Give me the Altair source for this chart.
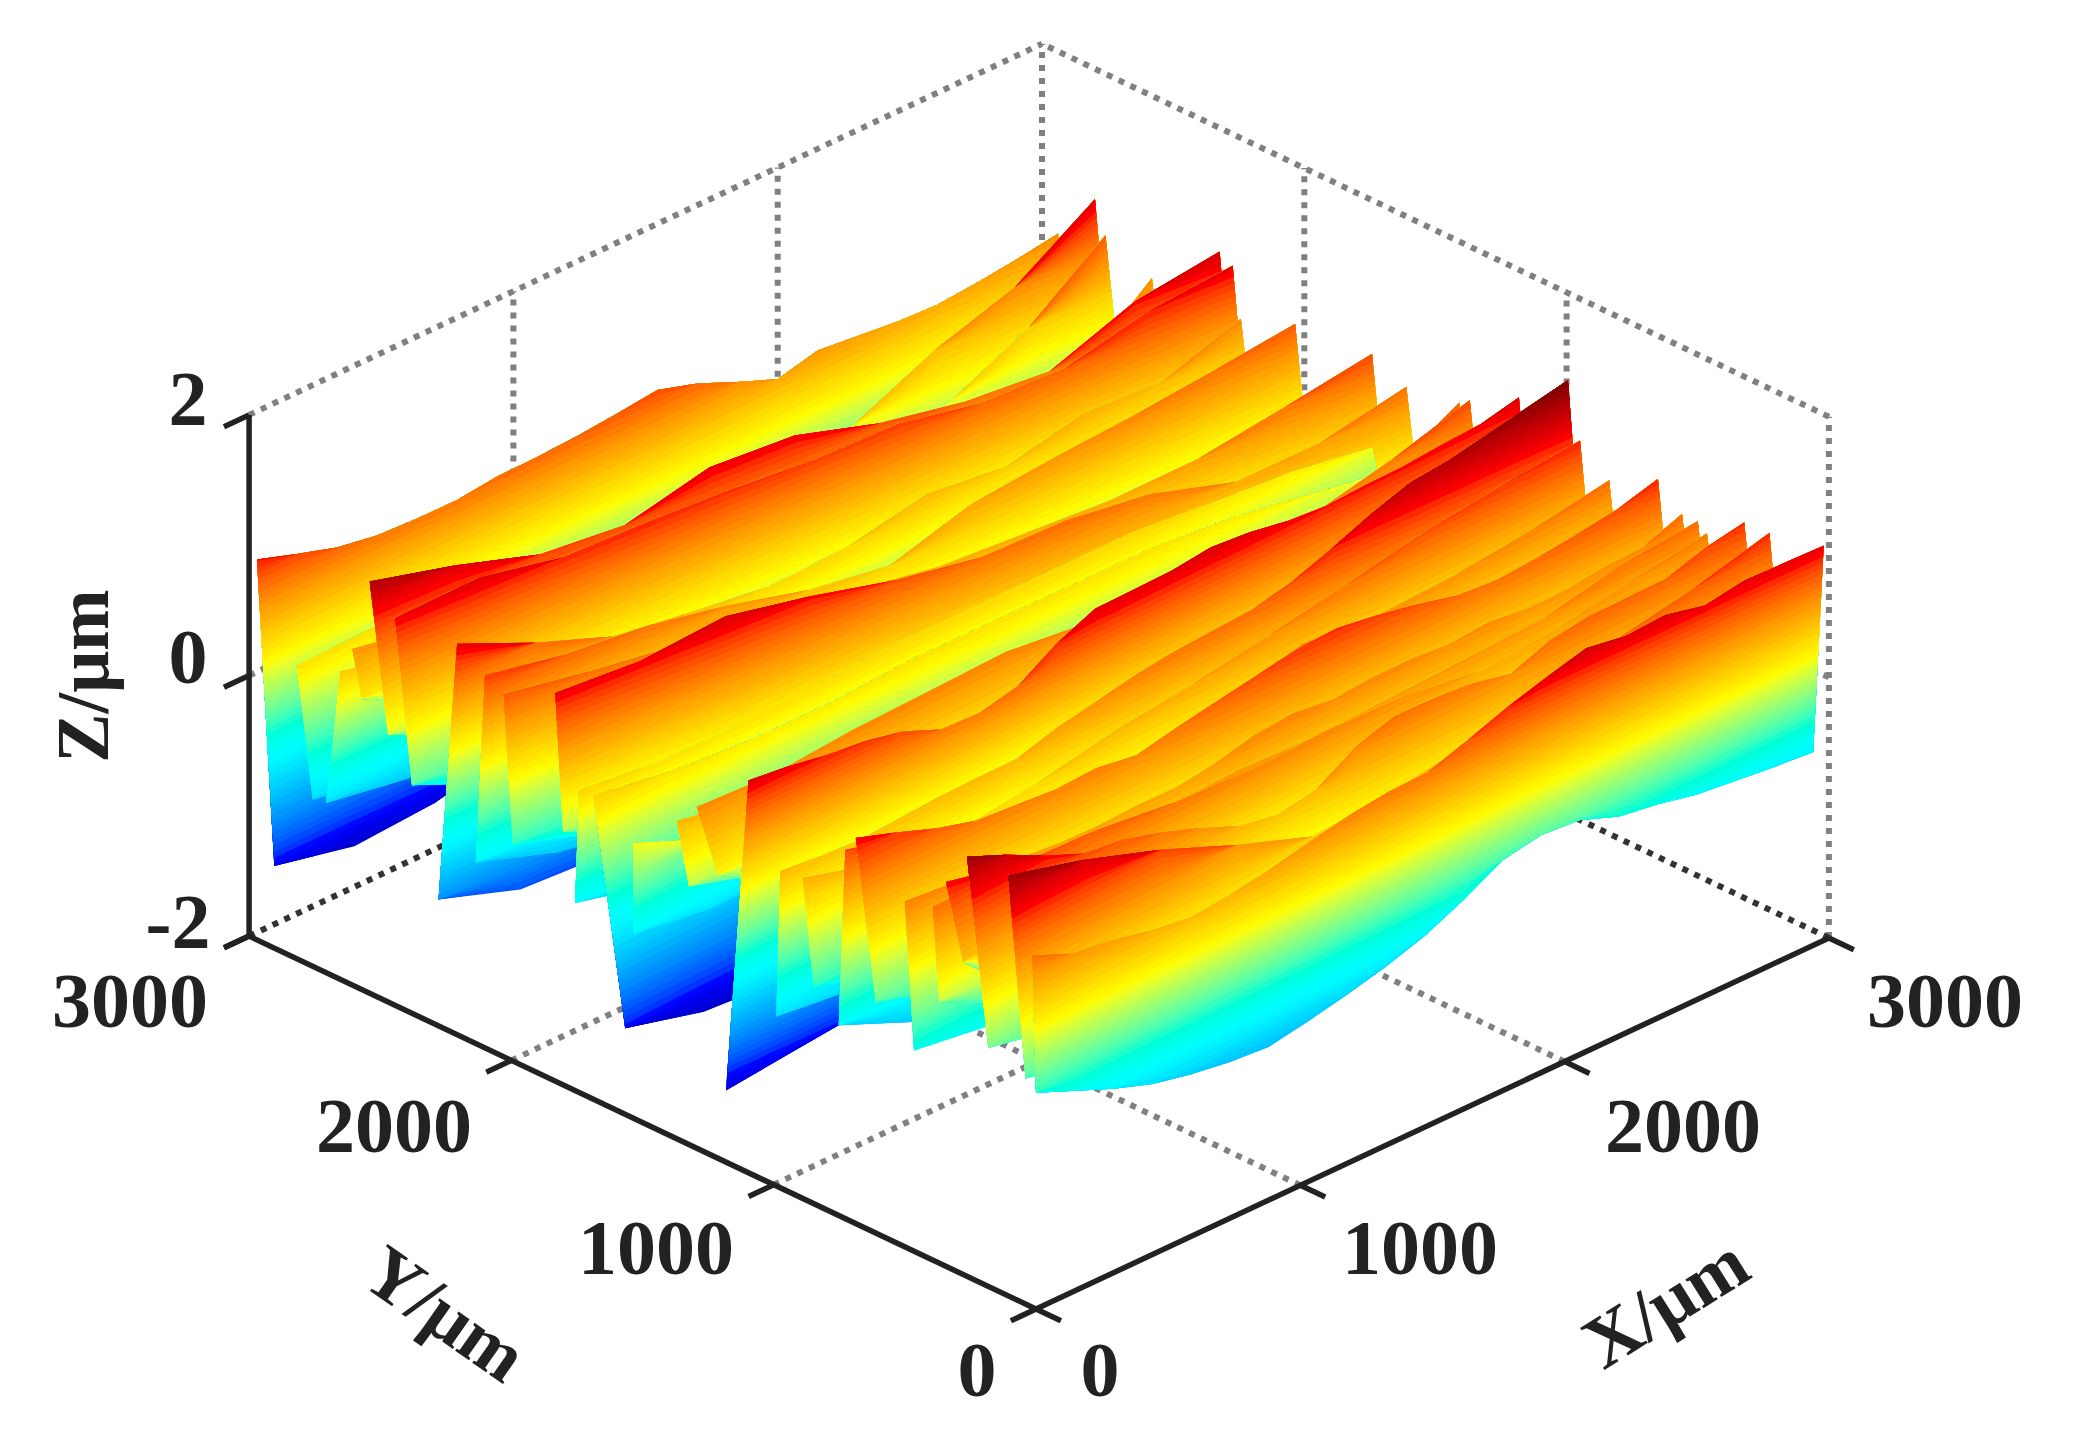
import altair as alt
import numpy as np
import pandas as pd

alt.data_transformers.disable_max_rows()

# ---- surface data, micrometres ------------------------------------------
# Each crest / foot list runs evenly from X=0 to X=3000 (11 or 21 readings).
# (Y of crest at X=0, Y of crest at X=3000, Y of foot at X=0, Y of foot at X=3000)
RIDGE_Y = [
    (2970, 2939, 2904, 2870), (2818, 2798, 2757, 2730), (2652, 2758, 2707, 2690),
    (2606, 2581, 2570, 2520), (2540, 2323, 2470, 2260), (2444, 2273, 2379, 2210),
    (2207, 2242, 2278, 2180), (2101, 2035, 2136, 1975), (2030, 1742, 1995, 1680),
    (1833, 1611, 1803, 1550), (1742, 1742, 1757, 1680), (1687, 1667, 1566, 1600),
    (1535, 1717, 1535, 1650), (1369, 1409, 1323, 1350), (1293, 1369, 1212, 1310),
    (1096, 1182, 1182, 1120), (975, 995, 990, 930), (889, 949, 848, 890),
    (727, 838, 752, 780), (687, 652, 611, 590), (500, 560, 465, 500),
    (394, 500, 369, 440), (343, 465, 278, 400), (263, 323, 182, 260),
    (106, 227, 40, 170), (15, 20, 0, 60),
]
CREST_Z = [
    [.92, .82, .73, .68, .67, .67, .71, .72, .74, .77, .81, .72, .59, .47, .55, .52, .49, .48, .51, .55, .60],
    [.25, .27, .19, .02, -.06, -.14, -.07, .13, .41, .61, 1.0],
    [.36, .22, .13, .04, -.05, -.14, -.28, -.02, .09, .35, .76],
    [.58, .47, .44, .37, .34, .26, .20, .11, -.07, .10, .60],
    [1.16, 1.02, .84, .80, .98, .96, .79, .69, .66, .93, 1.05],
    [.97, 1.01, .90, .90, .88, .84, .85, .74, .74, .91, .99],
    [1.0, .72, .48, .38, .29, .31, .42, .34, .46, .42, .61],
    [.86, .74, .68, .56, .40, .31, .50, .57, .62, .69, .77],
    [.78, .70, .64, .59, .54, .47, .47, .47, .53, .67, .82],
    [.98, .96, 1.04, .93, .79, .70, .72, .66, .49, .53, .69],
    [.32, .25, .25, .27, .31, .31, .31, .31, .25, .20, .10],
    [.33, .24, .20, .20, .25, .25, .25, .25, .20, .10, .0],
    [.11, -.16, -.31, -.43, -.48, -.52, -.55, -.53, -.42, -.36, -.26],
    [.44, .33, .26, .21, .23, .19, .21, .23, .35, .46, .76],
    [.62, .58, .62, .63, .64, .56, .52, .53, .54, .66, .82],
    [1.01, .97, .91, .87, .80, .67, .65, .71, .89, 1.01, 1.01, 1.01, 1.04, 1.01, .95, .92, .93, .93, .95, .96, 1.02],
    [.43, .40, .38, .40, .42, .43, .43, .52, .58, .64, .68, .70, .72, .79, .90, 1.02, 1.12, 1.15, 1.21, 1.27, 1.33],
    [.46, .28, .24, .31, .42, .49, .58, .68, .79, .86, .91],
    [.83, .66, .39, .45, .41, .53, .64, .57, .58, .63, .71],
    [.96, .86, .75, .67, .65, .63, .65, .61, .68, .74, .80, .86, .88, .84, .78, .71, .69, .72, .76, .81, .90],
    [.65, .62, .58, .55, .52, .51, .52, .51, .55, .62, .64, .60, .62, .62, .59, .61, .57, .57, .60, .61, .72],
    [.71, .70, .56, .57, .58, .54, .55, .56, .57, .68, .72],
    [.95, .80, .76, .67, .62, .63, .59, .49, .51, .59, .66],
    [1.22, 1.09, .94, .81, .77, .68, .57, .44, .38, .43, .61, .70, .69, .66, .59, .70, .74, .74, .74, .83, .88],
    [1.23, 1.05, .83, .57, .34, .37, .44, .58, .67, .76, .89],
    [.70, .57, .53, .46, .42, .45, .50, .57, .63, .67, .68, .78, .89, .98, 1.06, 1.01, 1.03, .96, 1.01, 1.0, .99],
]
FOOT_Z = [
    [-1.37, -1.5, -1.45, -1.3, -1.2, -1.1, -1.0, -.9, -.8, -.8, -.8],
    [-.72, -.85, -.9, -.9, -.9, -.9, -.9, -.8, -.7, -.6, -.5],
    [-.70, -.8, -.9, -.9, -.9, -.9, -.9, -.8, -.7, -.6, -.5],
    [.23, -.1, -.4, -.6, -.7, -.7, -.7, -.7, -.6, -.5, -.4],
    [.05, -.2, -.5, -.6, -.6, -.6, -.6, -.6, -.5, -.4, -.3],
    [-.25, -.5, -.6, -.7, -.7, -.7, -.7, -.6, -.6, -.5, -.4],
    [-1.03, -1.23, -1.25, -1.2, -1.0, -.9, -.8, -.7, -.6, -.5, -.4],
    [-.61, -.8, -.9, -.9, -.9, -.8, -.8, -.7, -.6, -.5, -.4],
    [-.34, -.5, -.6, -.7, -.7, -.7, -.7, -.6, -.6, -.5, -.4],
    [-.06, -.3, -.5, -.6, -.6, -.6, -.6, -.6, -.5, -.4, -.3],
    [-.56, -.7, -.8, -.8, -.8, -.8, -.8, -.7, -.6, -.5, -.4],
    [-1.34, -1.5, -1.55, -1.4, -1.2, -1.0, -.9, -.8, -.7, -.6, -.5],
    [-.59, -.69, -.7, -.8, -.8, -.8, -.8, -.8, -.7, -.6, -.5],
    [-.02, -.2, -.4, -.5, -.6, -.6, -.6, -.5, -.5, -.4, -.3],
    [.17, -.2, -.5, -.6, -.6, -.6, -.6, -.5, -.5, -.4, -.3],
    [-1.45, -1.41, -1.37, -1.33, -1.3, -1.2, -1.1, -1.0, -.9, -.85, -.8, -.75, -.7, -.65, -.6, -.55, -.5, -.45, -.4, -.35, -.3],
    [-.7, -.76, -.85, -.8, -.7, -.6, -.5, -.5, -.4, -.4, -.3],
    [-.34, -.5, -.6, -.6, -.6, -.5, -.5, -.4, -.4, -.3, -.3],
    [-.54, -.8, -.85, -.8, -.7, -.6, -.5, -.5, -.4, -.4, -.3],
    [-.23, -.4, -.5, -.5, -.5, -.5, -.4, -.4, -.4, -.3, -.3],
    [-.46, -.55, -.6, -.6, -.5, -.5, -.4, -.4, -.3, -.3, -.3],
    [0, -.3, -.45, -.5, -.5, -.5, -.4, -.4, -.3, -.3, -.3],
    [.4, -.2, -.45, -.5, -.5, -.5, -.4, -.4, -.3, -.3, -.3],
    [-.17, -.3, -.45, -.5, -.5, -.5, -.4, -.4, -.3, -.3, -.3],
    [-.27, -.4, -.45, -.5, -.5, -.5, -.4, -.4, -.3, -.3, -.3],
    [-.34, -.47, -.60, -.71, -.78, -.83, -.86, -.81, -.75, -.68, -.59, -.46, -.30, -.25, -.28, -.40, -.45, -.52, -.56, -.60, -.63],
]

TICKS_XY = [0, 1000, 2000, 3000]
TICKS_Z = [-2, 0, 2]

Z_LOW, Z_HIGH = -1.75, 1.3
N_LEVELS = 66
JET_Z = [-1.75, -1.36, -.60, .10, .90, 1.3]
JET = ["#00008f", "#0000ff", "#00ffff", "#ffff00", "#ff0000", "#800000"]


# ---- isometric view of the box -------------------------------------------
def view(x, y, z):
    return (1036 + .2643 * np.asarray(x, float) - .2623 * np.asarray(y, float),
            1309 - .1237 * np.asarray(x, float) - .1243 * np.asarray(y, float)
            - 130.3 * (np.asarray(z, float) + 2))


levels = Z_LOW + (np.arange(N_LEVELS) + .5) * (Z_HIGH - Z_LOW) / N_LEVELS


def ridge_frame(yc, zc, zb):
    n = max(len(zc), len(zb))
    xs = np.linspace(0, 3000, n)
    zc = np.interp(xs, np.linspace(0, 3000, len(zc)), zc)
    zb = np.interp(xs, np.linspace(0, 3000, len(zb)), zb)
    frac = xs / 3000
    y_c = yc[0] + (yc[1] - yc[0]) * frac
    y_b = yc[2] + (yc[3] - yc[2]) * frac
    rows = []
    first = True
    for li, lev in enumerate(levels):
        if lev >= zc.max():
            break
        upper = levels[li + 1] if li + 1 < N_LEVELS else 9
        if upper <= zb.min():
            continue
        floor_lev = zb.min() - 1 if first else lev
        first = False
        t = np.clip((floor_lev - zb) / (zc - zb), 0, 1)
        cx, cy = view(xs, y_c, zc)
        lx, ly = view(xs, y_b + (y_c - y_b) * t, zb + (zc - zb) * t)
        px = np.concatenate([cx, lx[::-1]])
        py = np.concatenate([cy, ly[::-1]])
        for k, (a, b) in enumerate(zip(px, py)):
            rows.append((li, round(float(lev), 3), k, round(float(a), 1), round(float(b), 1)))
    return pd.DataFrame(rows, columns=["li", "level", "k", "px", "py"])


x_scale = alt.Scale(domain=[8, 2070], nice=False, zero=False)
y_scale = alt.Scale(domain=[1445, 8], nice=False, zero=False)
c_scale = alt.Scale(domain=JET_Z, range=JET)
X = alt.X("px:Q", scale=x_scale, axis=None)
Y = alt.Y("py:Q", scale=y_scale, axis=None)


def segs(items):
    out = []
    for p, q in items:
        a = view(*p)
        b = view(*q)
        out.append(dict(px=float(a[0]), py=float(a[1]), px2=float(b[0]), py2=float(b[1])))
    return pd.DataFrame(out)


def rules(items, color, width, dash=None):
    kw = dict(color=color, strokeWidth=width)
    if dash:
        kw["strokeDash"] = dash
    return alt.Chart(segs(items)).mark_rule(**kw).encode(x=X, y=Y, x2="px2:Q", y2="py2:Q")


grid_light = []
for v in (1000, 2000):
    grid_light.append(((0, v, -2), (3000, v, -2)))
    grid_light.append(((v, 0, -2), (v, 3000, -2)))
    grid_light.append(((v, 3000, -2), (v, 3000, 2)))
    grid_light.append(((3000, v, -2), (3000, v, 2)))
grid_light += [((3000, 0, -2), (3000, 0, 2)), ((3000, 3000, -2), (3000, 3000, 2)),
               ((0, 3000, 2), (3000, 3000, 2)), ((3000, 0, 2), (3000, 3000, 2)),
               ((0, 3000, 0), (3000, 3000, 0)), ((3000, 0, 0), (3000, 3000, 0))]
grid_dark = [((0, 3000, -2), (3000, 3000, -2)), ((3000, 0, -2), (3000, 3000, -2))]

axis_lines = [((0, 0, -2), (3000, 0, -2)), ((0, 0, -2), (0, 3000, -2)),
              ((0, 3000, -2), (0, 3000, 2))]
TICK = 95
tick_lines = [((-TICK, v, -2), (0, v, -2)) for v in TICKS_XY]
tick_lines += [((v, -TICK, -2), (v, 0, -2)) for v in TICKS_XY]
tick_lines += [((-TICK, 3000, v), (0, 3000, v)) for v in TICKS_Z]

layers = [rules(grid_light, "#808080", 6, [6, 7]), rules(grid_dark, "#333333", 6, [6, 7])]

for yc, zc, zb in zip(RIDGE_Y, CREST_Z, FOOT_Z):
    layers.append(
        alt.Chart(ridge_frame(yc, zc, zb))
        .mark_line(filled=True, strokeWidth=0, interpolate="linear")
        .encode(x=X, y=Y, order="k:Q", detail="li:O",
                fill=alt.Fill("level:Q", scale=c_scale, legend=None))
    )

layers.append(rules(axis_lines, "#222222", 5.5))
layers.append(rules(tick_lines, "#222222", 5.5))

TICK_LABELS = ["2", "0", "-2", "3000", "2000", "1000", "0", "0", "1000", "2000", "3000"]
LABEL_PX = [188, 188, 178, 130, 394, 656, 977, 1100, 1420, 1683, 1945]
LABEL_PY = [402, 660, 925, 1004, 1129, 1251, 1373, 1373, 1251, 1129, 1004]
tick_text = pd.DataFrame({"label": TICK_LABELS, "px": LABEL_PX, "py": LABEL_PY})
layers.append(
    alt.Chart(tick_text).mark_text(font="Liberation Serif", fontWeight="bold", fontSize=78,
                                   color="#222222", align="center", baseline="middle")
    .encode(x=X, y=Y, text="label:N")
)

for label, lx, ly, ang in [("Z/μm", 86, 676, 270), ("Y/μm", 444, 1316, 35), ("X/μm", 1667, 1305, 328)]:
    layers.append(
        alt.Chart(pd.DataFrame({"label": [label], "px": [lx], "py": [ly]}))
        .mark_text(font="Liberation Serif", fontWeight="bold", fontSize=74, angle=ang,
                   color="#222222", align="center", baseline="middle")
        .encode(x=X, y=Y, text="label:N")
    )

chart = (alt.layer(*layers)
         .properties(width=2062, height=1437, padding=0, autosize="none", background="white")
         .configure_view(stroke=None))
chart.save("out.html", embed_options={"renderer": "svg", "actions": False})
